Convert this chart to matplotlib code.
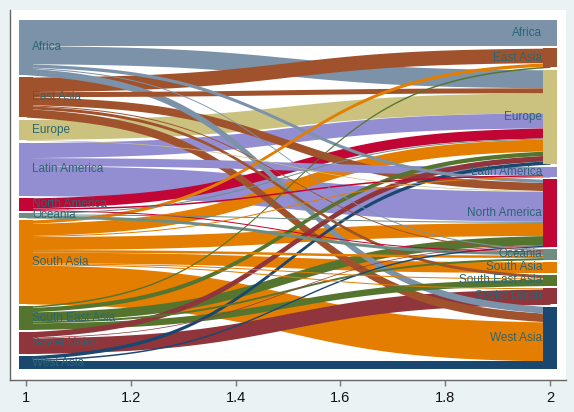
"""Sankey of flows between world regions (Stata-style look)."""
import matplotlib
matplotlib.use('Agg')
import matplotlib.pyplot as plt
import numpy as np

regions = ['Africa', 'East Asia', 'Europe', 'Latin America', 'North America',
           'Oceania', 'South Asia', 'South East Asia', 'Soviet Union', 'West Asia']
colors = ['#7b92a8', '#a0522d', '#cac27e', '#938dd2', '#c10534',
          '#6e8e84', '#e37e00', '#55752f', '#90353b', '#1a476f']

# flows (index into regions)
src = [0, 0, 0, 0, 0,
       1, 1, 1, 1, 1, 1,
       2, 2,
       3, 3, 3,
       4, 4, 4,
       5, 5, 5,
       6, 6, 6, 6, 6, 6, 6, 6, 6,
       7, 7, 7, 7, 7,
       8, 8, 8,
       9, 9, 9]
dst = [0, 2, 4, 5, 9,
       1, 2, 4, 5, 7, 9,
       2, 4,
       2, 3, 4,
       2, 3, 5,
       2, 4, 5,
       1, 2, 3, 4, 5, 6, 7, 8, 9,
       1, 2, 4, 5, 7,
       2, 4, 8,
       2, 4, 9]
val = [25.7, 18, 3.3, 1, 6.7,
       14.5, 5, 8, 1, 3, 8.5,
       20, 0.7,
       15, 8, 30,
       10, 1.5, 1,
       1, 1, 3,
       3.3, 12, 1, 13, 2.5, 10.7, 1, 1, 39,
       1.5, 4.3, 9, 2, 6.5,
       5.5, 0.7, 15.5,
       3.5, 1.5, 8]

xticks = [1, 1.2, 1.4, 1.6, 1.8, 2]
xticklabels = ['1', '1.2', '1.4', '1.6', '1.8', '2']

GAP = 2.4
BAR_W = 0.025
LABEL_C = '#2b6672'
n = len(regions)

# node totals and tops (y grows downward)
left_tot = np.zeros(n)
right_tot = np.zeros(n)
for s, d, v in zip(src, dst, val):
    left_tot[s] += v
    right_tot[d] += v
left_top = np.concatenate([[0], np.cumsum(left_tot + GAP)[:-1]])
right_top = np.concatenate([[0], np.cumsum(right_tot + GAP)[:-1]])

# offsets inside nodes: outflows ordered by destination, inflows by source
flows = list(zip(src, dst, val))
y0 = {}
y1 = {}
off = left_top.copy()
for s, d, v in sorted(flows, key=lambda f: (f[0], f[1])):
    y0[(s, d)] = off[s]
    off[s] += v
off = right_top.copy()
for s, d, v in sorted(flows, key=lambda f: (f[1], f[0])):
    y1[(s, d)] = off[d]
    off[d] += v

t = np.linspace(0, 1, 300)
k = 8.0
sig = lambda z: 1 / (1 + np.exp(-z))
f = (sig(k * (t - 0.5)) - sig(-k / 2)) / (sig(k / 2) - sig(-k / 2))

fig = plt.figure(figsize=(5.74, 4.12), dpi=100)
fig.patch.set_facecolor('#eaf2f3')
ax = fig.add_axes([10 / 574, 32 / 412, 556 / 574, 370 / 412])
ax.set_facecolor('white')

# bigger flows first so thin ones sit on top
for s, d, v in sorted(flows, key=lambda fl: -fl[2]):
    top = y0[(s, d)] + (y1[(s, d)] - y0[(s, d)]) * f
    ax.fill_between(1 + t, top, top + v, color=colors[s], lw=0, zorder=2)

for i in range(n):
    ax.bar(1, left_tot[i], bottom=left_top[i], width=BAR_W, color=colors[i],
           lw=0, zorder=3)
    ax.bar(2, right_tot[i], bottom=right_top[i], width=BAR_W, color=colors[i],
           lw=0, zorder=3)
    ax.text(1.0115, left_top[i] + left_tot[i] / 2, regions[i], ha='left',
            va='center', fontsize=8.5, color=LABEL_C, family='Liberation Sans',
            zorder=5)
    ax.text(1.985, right_top[i] + right_tot[i] / 2, regions[i], ha='right',
            va='center', fontsize=8.5, color=LABEL_C, family='Liberation Sans',
            zorder=5)

ax.set_xlim(1 - 16 / 524, 2 + 16 / 524)
ax.set_ylim(360, -10)
ax.set_yticks([])
ax.set_xticks(xticks)
ax.set_xticklabels(xticklabels, fontsize=10.5, family='Liberation Sans',
                   color='#111111')
ax.tick_params(axis='x', length=4, width=1, color='#777777', pad=4)
for side in ['top', 'right']:
    ax.spines[side].set_visible(False)
for side in ['left', 'bottom']:
    ax.spines[side].set_color('#666666')
    ax.spines[side].set_linewidth(1)

fig.savefig('out.png', dpi=100, facecolor=fig.get_facecolor())
plt.close(fig)
